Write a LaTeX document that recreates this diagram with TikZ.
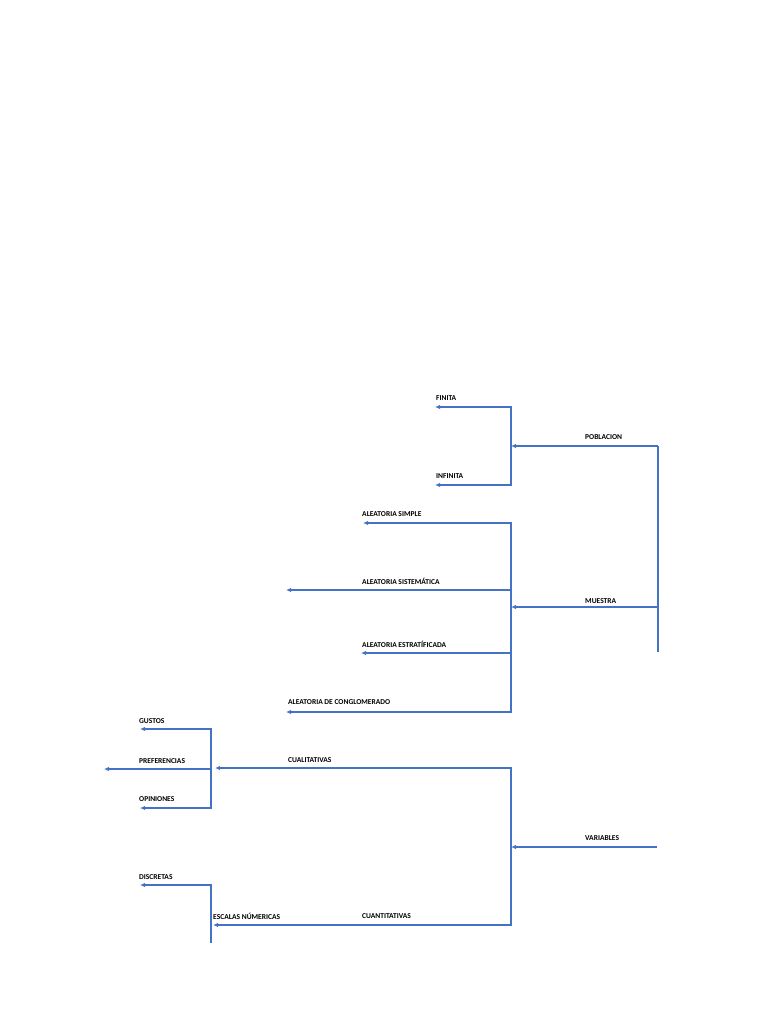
\documentclass[tikz,border=0pt]{standalone}
\usepackage{fontspec}
\setmainfont{Carlito}
\usetikzlibrary{arrows.meta}
\definecolor{ln}{RGB}{68,114,196}
\begin{document}
\begin{tikzpicture}[x=1pt,y=-1pt,
  lbl/.style={anchor=west,inner sep=0pt,font=\fontsize{7.5}{8}\selectfont\bfseries},
  ln/.style={draw=ln,line width=1.3pt},
  arr/.style={ln,-{Latex[length=5pt,width=4.5pt]}}]
\useasboundingbox (0,0) rectangle (768,1024);
% labels
\node[lbl] (fin) at (436,398) {FINITA};
\node[lbl] (pob) at (585,437) {POBLACION};
\node[lbl] (inf) at (436,476) {INFINITA};
\node[lbl] (as) at (362,514) {ALEATORIA SIMPLE};
\node[lbl] (asi) at (362,581) {ALEATORIA SISTEMÁTICA};
\node[lbl] (mue) at (585,601) {MUESTRA};
\node[lbl] (ae) at (362,644) {ALEATORIA ESTRATÍFICADA};
\node[lbl] (ac) at (288,702) {ALEATORIA DE CONGLOMERADO};
\node[lbl] (gus) at (139,721) {GUSTOS};
\node[lbl] (pre) at (139,761) {PREFERENCIAS};
\node[lbl] (cua) at (288,760) {CUALITATIVAS};
\node[lbl] (opi) at (139,799) {OPINIONES};
\node[lbl] (var) at (585,838) {VARIABLES};
\node[lbl] (dis) at (139,877) {DISCRETAS};
\node[lbl] (esc) at (213,916) {ESCALAS NÚMERICAS};
\node[lbl] (cuan) at (362,916) {CUANTITATIVAS};
% coordinates
\coordinate (pv1) at (658,446); \coordinate (pv2) at (658,652);
\coordinate (pm) at (658,607);
\coordinate (b1) at (511,446); \coordinate (b2) at (511,607);
% poblacion/muestra
\draw[ln] (pv1) -- (pv2);
\draw[arr] (pv1) -- (b1);
\draw[arr] (pm) -- (b2);
% finita bracket
\draw[ln] (435,407) ++(0,0) coordinate (f1);
\draw[arr] (511,407) -- (435,407) coordinate (fe);
\draw[ln] (511,406.4) -- (511,485.6);
\draw[arr] (511,485) -- (435,485) coordinate (ie);
% muestra bracket
\draw[ln] (511,522.4) -- (511,712.6);
\draw[arr] (511,523) -- (363,523);
\draw[arr] (511,590) -- (286,590);
\draw[arr] (511,653) -- (361,653);
\draw[arr] (511,712) -- (286,712);
% variables
\draw[arr] (657,847) -- (511,847);
\draw[ln] (511,767.4) -- (511,925.6);
\draw[arr] (511,768) -- (215,768);
\draw[arr] (511,925) -- (213,925);
% cualitativas bracket
\draw[ln] (211,728.4) -- (211,808.6);
\draw[arr] (211,729) -- (140,729);
\draw[arr] (211,769) -- (104,769);
\draw[arr] (211,808) -- (140,808);
% cuantitativas bracket
\draw[ln] (211,884.4) -- (211,943);
\draw[arr] (211,885) -- (140,885);
\end{tikzpicture}
\end{document}
